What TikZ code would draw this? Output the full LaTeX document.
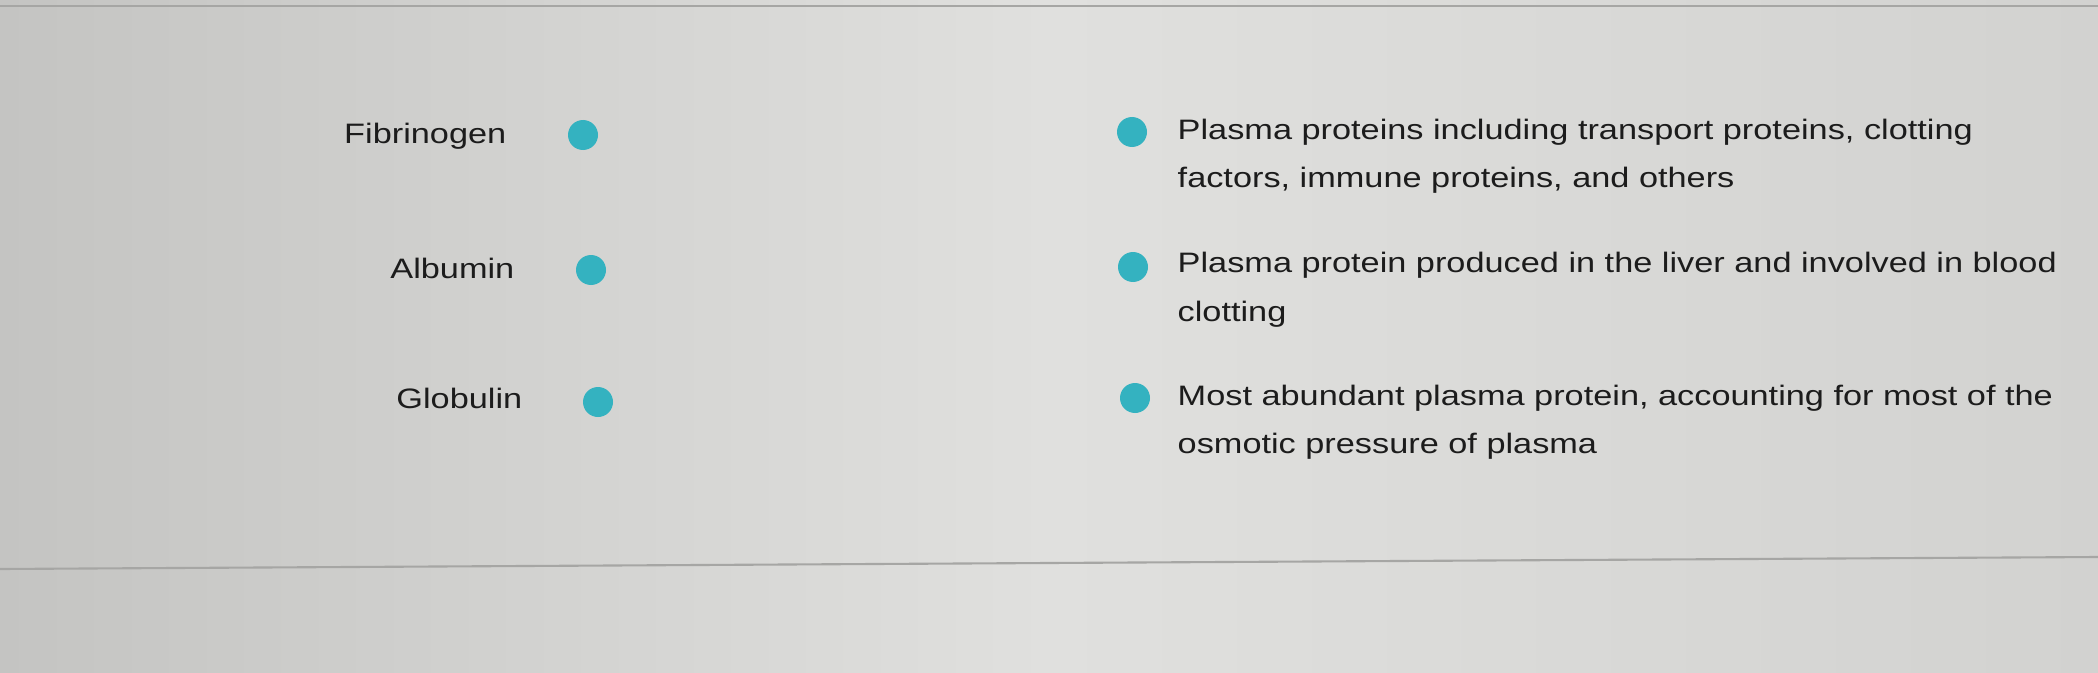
\documentclass[tikz,border=0pt]{standalone}
\usepackage{fontspec}
\setmainfont{Liberation Sans}[FakeStretch=1.22]

\definecolor{dotteal}{RGB}{52,178,192}
\definecolor{inktext}{RGB}{28,28,28}
\definecolor{screenleft}{RGB}{196,196,194}
\definecolor{screenmid}{RGB}{224,224,222}
\definecolor{screenright}{RGB}{210,210,208}
\definecolor{ruleline}{RGB}{166,166,164}

\def \dotsize {0.30cm}
\def \linegap {13.9pt}

\begin{document}
\begin{tikzpicture}[
  dot/.style={circle, fill=dotteal, minimum size=\dotsize, inner sep=0pt},
  term/.style={anchor=base east, inner sep=0pt, text=inktext, font=\fontsize{8}{\linegap}\selectfont},
  answer/.style={anchor=base west, yshift=-\linegap, inner sep=0pt, align=left, text=inktext, font=\fontsize{8}{\linegap}\selectfont}]
\useasboundingbox (0,0) rectangle (20.98,6.72);
\shade[left color=screenleft, right color=screenright, middle color=screenmid] (0,0) rectangle (20.98,6.72);
\coordinate (topleft) at (0,6.66);
\coordinate (topright) at (20.98,6.66);
\coordinate (bottomleft) at (0,1.03);
\coordinate (bottomright) at (20.98,1.15);
\draw[ruleline, line width=0.5pt] (topleft) -- (topright);
\draw[ruleline, line width=0.6pt] (bottomleft) -- (bottomright);

% left column: terms
\draw (5.07,5.29) node[term] (fibrinogen) {Fibrinogen};
\draw (5.83,5.37) node[dot] (fibdot) {};
\draw (5.15,3.94) node[term] (albumin) {Albumin};
\draw (5.91,4.02) node[dot] (albdot) {};
\draw (5.23,2.64) node[term] (globulin) {Globulin};
\draw (5.98,2.70) node[dot] (globdot) {};

% right column: descriptions (base = last line, so shifted down one line)
\draw (11.32,5.40) node[dot] (firstdot) {};
\draw (11.77,5.33) node[answer] (first) {Plasma proteins including transport proteins, clotting\\factors, immune proteins, and others};
\draw (11.33,4.05) node[dot] (seconddot) {};
\draw (11.77,3.99) node[answer] (second) {Plasma protein produced in the liver and involved in blood\\clotting};
\draw (11.35,2.74) node[dot] (thirddot) {};
\draw (11.77,2.67) node[answer] (third) {Most abundant plasma protein, accounting for most of the\\osmotic pressure of plasma};
\end{tikzpicture}
\end{document}
